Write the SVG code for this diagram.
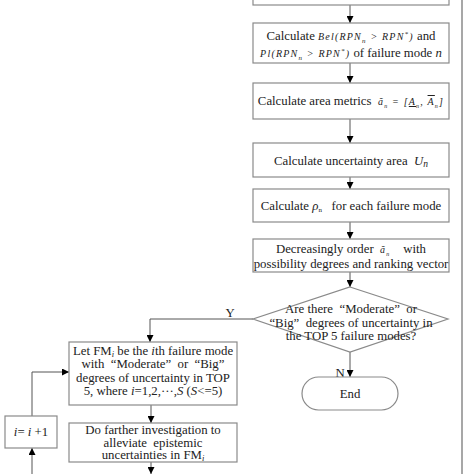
<svg xmlns="http://www.w3.org/2000/svg" width="474" height="474" viewBox="0 0 474 474">
<defs>
<marker id="ah" viewBox="0 0 10 10" refX="10" refY="5" markerWidth="7" markerHeight="7" orient="auto" markerUnits="userSpaceOnUse">
<path d="M0,0 L10,5 L0,10 z" fill="#000"/>
</marker>
<style>
.box{fill:#fff;stroke:#8a8a8a;stroke-width:1.2}
.t{font-family:"Liberation Serif","Times New Roman",serif;font-size:12.8px;fill:#222;text-anchor:middle}
.m{font-family:"Liberation Serif","Times New Roman",serif;font-style:italic;font-size:10px;letter-spacing:1.2px}
.i{font-style:italic}
.c{fill:none;stroke:#555;stroke-width:1}
.g{fill:none;stroke:#8a8a8a;stroke-width:1.5}
</style>
</defs>
<rect width="474" height="474" fill="#fff"/>
<g id="connectors">
<line class="g" x1="462" y1="0" x2="462" y2="474"/>
<line class="c" x1="350" y1="5" x2="350" y2="23" marker-end="url(#ah)"/>
<line class="c" x1="350" y1="63" x2="350" y2="83" marker-end="url(#ah)"/>
<line class="c" x1="350" y1="119" x2="350" y2="143" marker-end="url(#ah)"/>
<line class="c" x1="350" y1="177" x2="350" y2="189" marker-end="url(#ah)"/>
<line class="c" x1="350" y1="222" x2="350" y2="239" marker-end="url(#ah)"/>
<line class="c" x1="350" y1="272" x2="350" y2="287" marker-end="url(#ah)"/>
<polyline class="c" points="253,319 150,319 150,342" marker-end="url(#ah)"/>
<line class="c" x1="350" y1="352" x2="350" y2="377" marker-end="url(#ah)"/>
<line class="c" x1="151" y1="405" x2="151" y2="423" marker-end="url(#ah)"/>
<line class="c" x1="151" y1="462" x2="151" y2="474" marker-end="url(#ah)"/>
<line class="c" x1="32" y1="474" x2="32" y2="448" marker-end="url(#ah)"/>
<polyline class="c" points="32,416 32,372 69,372" marker-end="url(#ah)"/>
<text class="t" x="230" y="317">Y</text>
<text class="t" x="340" y="377">N</text>
</g>
<g id="n0"><rect class="box" x="253" y="-10" width="196" height="15"/></g>
<g id="n1"><rect class="box" x="253" y="23" width="196" height="40"/>
<text class="t" x="351" y="40">Calculate <tspan class="m">Bel(RPN<tspan font-size="7" dy="3">n</tspan><tspan dy="-3"> &gt; RPN</tspan><tspan font-size="7" dy="-4">*</tspan><tspan dy="4">)</tspan></tspan> and</text>
<text class="t" x="351" y="57"><tspan class="m">Pl(RPN<tspan font-size="7" dy="3">n</tspan><tspan dy="-3"> &gt; RPN</tspan><tspan font-size="7" dy="-4">*</tspan><tspan dy="4">)</tspan></tspan> of failure mode <tspan class="i">n</tspan></text>
</g>
<g id="n2"><rect class="box" x="253" y="83" width="196" height="36"/>
<text class="t" x="351" y="105">Calculate area metrics&#160; <tspan class="m" font-size="8.5" letter-spacing="0.8">ã<tspan font-size="6" dy="3">n</tspan><tspan dy="-3"> = [</tspan><tspan text-decoration="underline">A</tspan><tspan font-size="6" dy="3">n</tspan><tspan dy="-3">, </tspan><tspan text-decoration="overline">A</tspan><tspan font-size="6" dy="3">n</tspan><tspan dy="-3">]</tspan></tspan></text>
</g>
<g id="n3"><rect class="box" x="253" y="143" width="196" height="34"/>
<text class="t" x="351" y="165">Calculate uncertainty area&#160; <tspan class="i">U</tspan><tspan class="i" font-size="9.5" dy="1.5">n</tspan></text>
</g>
<g id="n4"><rect class="box" x="253" y="189" width="196" height="33"/>
<text class="t" x="351" y="210">Calculate <tspan class="i">ρ</tspan><tspan font-size="7" dy="2">n</tspan><tspan dy="-2">&#160;&#160; for each failure mode</tspan></text>
</g>
<g id="n5"><rect class="box" x="253" y="239" width="196" height="33"/>
<text class="t" x="351" y="253">Decreasingly order&#160; <tspan class="m">ã<tspan font-size="6" dy="3">n</tspan></tspan><tspan dy="-3">&#160;&#160;&#160; with</tspan></text>
<text class="t" x="351" y="268">possibility degrees and ranking vector</text>
</g>
<g id="n6"><polygon class="box" points="350,287 448,319 350,352 253,319"/>
<text class="t" x="351" y="313" font-size="11.8">Are there&#160; “Moderate”&#160; or</text>
<text class="t" x="351" y="326.5" font-size="11.8">“Big”&#160; degrees of uncertainty in</text>
<text class="t" x="351" y="340" font-size="11.8">the TOP 5 failure modes?</text>
</g>
<g id="n7"><rect class="box" x="302" y="377" width="96" height="33" rx="16.5"/>
<text class="t" x="350" y="398">End</text>
</g>
<g id="n8"><rect class="box" x="69" y="342" width="168" height="63"/>
<text class="t" x="153" y="354.5">Let FM<tspan class="i" font-size="8.5" dy="2">i</tspan><tspan dy="-2"> be the </tspan><tspan class="i">i</tspan>th failure mode</text>
<text class="t" x="153" y="368">with&#160; “Moderate”&#160; or&#160; “Big”</text>
<text class="t" x="153" y="381.5">degrees of uncertainty in TOP</text>
<text class="t" x="153" y="395">5, where <tspan class="i">i</tspan>=1,2,···,<tspan class="i">S</tspan> (<tspan class="i">S</tspan>&lt;=5)</text>
</g>
<g id="n9"><rect class="box" x="69" y="423" width="168" height="39"/>
<text class="t" x="153" y="434" font-size="12">Do farther investigation to</text>
<text class="t" x="153" y="446.5" font-size="12">alleviate&#160; epistemic</text>
<text class="t" x="153" y="459" font-size="12">uncertainties in FM<tspan class="i" font-size="8.5" dy="1.5">i</tspan></text>
</g>
<g id="n10"><rect class="box" x="5" y="416" width="52" height="32"/>
<text class="t" x="31" y="436"><tspan class="i">i</tspan>= <tspan class="i">i</tspan> +1</text>
</g>
</svg>
